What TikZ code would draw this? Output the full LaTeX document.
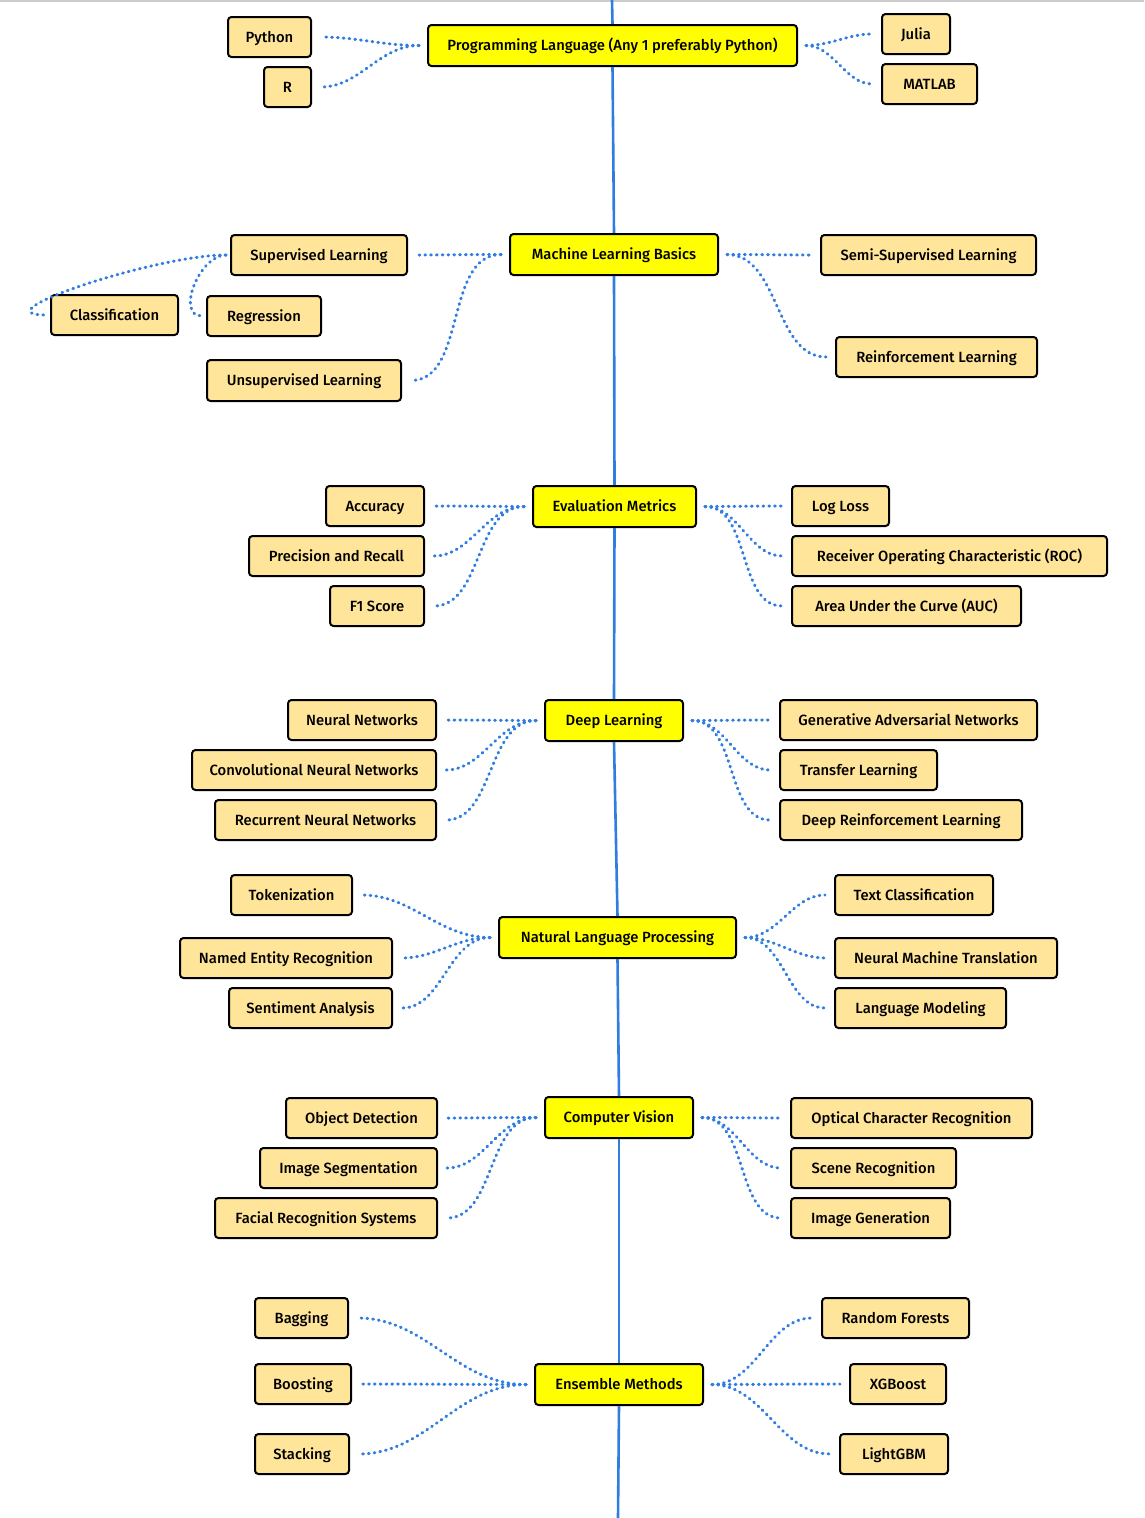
\documentclass[tikz,border=0pt]{standalone}
\usepackage{fontspec}
\setmainfont{Fira Sans}[UprightFont={* Medium}]
\usetikzlibrary{calc}
\definecolor{leaffill}{HTML}{FFE599}
\definecolor{hubfill}{HTML}{FFFF00}
\definecolor{linkblue}{HTML}{2F7DE1}
\definecolor{topgray}{HTML}{CCCCCC}
\tikzset{
  box/.style={draw=black, line width=2pt, rounded corners=3.5pt, inner sep=0pt,
    minimum height=40pt, align=center, text height=10pt, text depth=0pt,
    font=\fontsize{14.8}{17}\selectfont},
  leaf/.style={box, fill=leaffill},
  hub/.style={box, fill=hubfill, minimum height=41pt},
  spine/.style={draw=linkblue, line width=2.6pt},
  dotlink/.style={draw=linkblue, line width=3pt, line cap=round,
    dash pattern=on 0.8pt off 5pt, shorten <=8pt, shorten >=9pt},
}
\begin{document}
\begin{tikzpicture}[x=1pt,y=-1pt]
\useasboundingbox (0,0) rectangle (1144,1518);
\fill[topgray] (0,0) rectangle (1144,2);

% hubs
\node[hub, minimum width=369pt] (pl) at (612.5,45.5) {Programming Language (Any 1 preferably Python)};
\node[hub, minimum width=208pt] (mlb) at (614,254.5) {Machine Learning Basics};
\node[hub, minimum width=163pt] (em) at (614.5,506.5) {Evaluation Metrics};
\node[hub, minimum width=138pt] (dl) at (614,720.5) {Deep Learning};
\node[hub, minimum width=237pt] (nlp) at (617.5,937.5) {Natural Language Processing};
\node[hub, minimum width=148pt] (cv) at (619,1117.5) {Computer Vision};
\node[hub, minimum width=168pt] (ens) at (619,1384.5) {Ensemble Methods};

\coordinate (top) at (612,0);
\coordinate (bot) at (618,1518);

% spine
\draw[spine] (top) -- (pl.north);
\draw[spine] (pl.south) -- (mlb.north);
\draw[spine] (mlb.south) -- (em.north);
\draw[spine] (em.south) -- (dl.north);
\draw[spine] (dl.south) -- (nlp.north);
\draw[spine] (nlp.south) -- (cv.north);
\draw[spine] (cv.south) -- (ens.north);
\draw[spine] (ens.south) -- (bot);

% leaves: programming
\node[leaf, minimum width=83pt] (py) at (269.5,37) {Python};
\node[leaf, minimum width=47pt] (r) at (287.5,87) {R};
\node[leaf, minimum width=68pt] (jl) at (916,34) {Julia};
\node[leaf, minimum width=95pt] (mat) at (929.5,84) {MATLAB};

% leaves: ML basics
\node[leaf, minimum width=176pt] (sup) at (319,255) {Supervised Learning};
\node[leaf, minimum width=127pt] (cls) at (114.5,315) {Classification};
\node[leaf, minimum width=114pt] (reg) at (264,316) {Regression};
\node[leaf, minimum width=194pt, minimum height=41pt] (uns) at (304,380.5) {Unsupervised Learning};
\node[leaf, minimum width=215pt] (semi) at (928.5,255) {Semi-Supervised Learning};
\node[leaf, minimum width=201pt] (rl) at (936.5,357) {Reinforcement Learning};

% leaves: evaluation
\node[leaf, minimum width=98pt] (acc) at (375,506) {Accuracy};
\node[leaf, minimum width=175pt] (pr) at (336.5,556) {Precision and Recall};
\node[leaf, minimum width=94pt] (f1) at (377,606) {F1 Score};
\node[leaf, minimum width=97pt] (ll) at (840.5,506) {Log Loss};
\node[leaf, minimum width=315pt] (roc) at (949.5,556) {Receiver Operating Characteristic (ROC)};
\node[leaf, minimum width=229pt] (auc) at (906.5,606) {Area Under the Curve (AUC)};

% leaves: deep learning
\node[leaf, minimum width=148pt] (nn) at (362,720) {Neural Networks};
\node[leaf, minimum width=244pt] (cnn) at (314,770) {Convolutional Neural Networks};
\node[leaf, minimum width=221pt] (rnn) at (325.5,820) {Recurrent Neural Networks};
\node[leaf, minimum width=257pt] (gan) at (908.5,720) {Generative Adversarial Networks};
\node[leaf, minimum width=157pt] (tl) at (858.5,770) {Transfer Learning};
\node[leaf, minimum width=242pt] (drl) at (901,820) {Deep Reinforcement Learning};

% leaves: NLP
\node[leaf, minimum width=121pt] (tok) at (291.5,895) {Tokenization};
\node[leaf, minimum width=212pt] (ner) at (286,958) {Named Entity Recognition};
\node[leaf, minimum width=163pt] (sa) at (310.5,1008) {Sentiment Analysis};
\node[leaf, minimum width=158pt] (tc) at (914,895) {Text Classification};
\node[leaf, minimum width=222pt] (nmt) at (946,958) {Neural Machine Translation};
\node[leaf, minimum width=171pt] (lm) at (920.5,1008) {Language Modeling};

% leaves: CV
\node[leaf, minimum width=151pt] (od) at (361.5,1118) {Object Detection};
\node[leaf, minimum width=177pt] (is) at (348.5,1168) {Image Segmentation};
\node[leaf, minimum width=222pt] (frs) at (326,1218) {Facial Recognition Systems};
\node[leaf, minimum width=241pt] (ocr) at (911.5,1118) {Optical Character Recognition};
\node[leaf, minimum width=165pt] (sr) at (873.5,1168) {Scene Recognition};
\node[leaf, minimum width=159pt] (ig) at (870.5,1218) {Image Generation};

% leaves: ensemble
\node[leaf, minimum width=93pt] (bag) at (301.5,1318) {Bagging};
\node[leaf, minimum width=96pt] (boo) at (303,1384) {Boosting};
\node[leaf, minimum width=94pt] (sta) at (302,1454) {Stacking};
\node[leaf, minimum width=147pt] (rf) at (895.5,1318) {Random Forests};
\node[leaf, minimum width=96pt] (xgb) at (898,1384) {XGBoost};
\node[leaf, minimum width=108pt] (lgb) at (894,1454) {LightGBM};

% dotted links left
\foreach \h/\l in {pl/py, pl/r, mlb/sup, mlb/uns, em/acc, em/pr, em/f1,
  dl/nn, dl/cnn, dl/rnn, nlp/tok, nlp/ner, nlp/sa, cv/od, cv/is, cv/frs,
  ens/bag, ens/boo, ens/sta}
  \draw[dotlink] (\h.west) to[out=180,in=0] (\l.east);
% dotted links right
\foreach \h/\l in {pl/jl, pl/mat, mlb/semi, mlb/rl, em/ll, em/roc, em/auc,
  dl/gan, dl/tl, dl/drl, nlp/tc, nlp/nmt, nlp/lm, cv/ocr, cv/sr, cv/ig,
  ens/rf, ens/xgb, ens/lgb}
  \draw[dotlink] (\h.east) to[out=0,in=180] (\l.west);
% supervised sub-links
\draw[dotlink, shorten <=4pt, shorten >=4pt] (sup.west) to[out=180,in=180,looseness=1.0] (cls.west);
\draw[dotlink, shorten <=4pt, shorten >=4pt] (sup.west) to[out=180,in=180,looseness=1.2] (reg.west);
\end{tikzpicture}
\end{document}
